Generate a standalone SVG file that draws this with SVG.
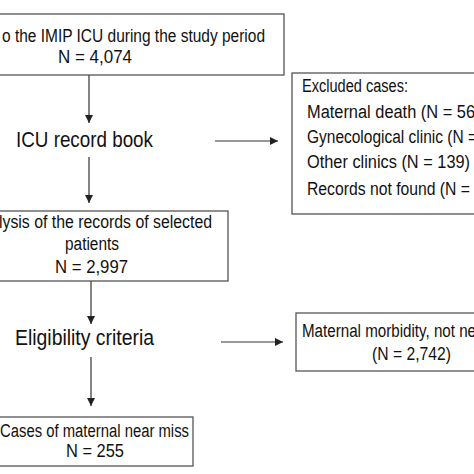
<svg xmlns="http://www.w3.org/2000/svg" width="474" height="474" viewBox="0 0 474 474">
<style>
.box{fill:#fff;stroke:#555;stroke-width:1.3}
.t{font-family:"Liberation Sans",Arial,sans-serif;font-size:18px;fill:#111}
.big{font-family:"Liberation Sans",Arial,sans-serif;font-size:22px;fill:#111}
.ln{stroke:#333;stroke-width:1.2;fill:none}
</style>
<defs>
<marker id="ah" viewBox="0 0 10 10" refX="10" refY="5" markerWidth="8" markerHeight="8" markerUnits="userSpaceOnUse" orient="auto">
<path d="M0,0 L10,5 L0,10 z" fill="#222"/>
</marker>
</defs>
<rect width="474" height="474" fill="#fff"/>
<g id="connectors">
<line class="ln" x1="89" y1="75" x2="89" y2="123" marker-end="url(#ah)"/>
<line class="ln" x1="89" y1="157" x2="89" y2="203" marker-end="url(#ah)"/>
<line class="ln" x1="215" y1="141" x2="278" y2="141" marker-end="url(#ah)"/>
<line class="ln" x1="91" y1="281" x2="91" y2="324" marker-end="url(#ah)"/>
<line class="ln" x1="221" y1="342" x2="283" y2="342" marker-end="url(#ah)"/>
<line class="ln" x1="91" y1="357" x2="91" y2="406" marker-end="url(#ah)"/>
</g>
<g id="admissions">
<rect class="box" x="-10" y="14" width="294" height="61"/>
<text class="t" x="2" y="42" textLength="263" lengthAdjust="spacingAndGlyphs">o the IMIP ICU during the study period</text>
<text class="t" x="58" y="63" textLength="74" lengthAdjust="spacingAndGlyphs">N = 4,074</text>
</g>
<g id="icu-record-book">
<text class="big" x="16" y="147" textLength="137" lengthAdjust="spacingAndGlyphs">ICU record book</text>
</g>
<g id="excluded">
<rect class="box" x="292" y="73" width="192" height="141"/>
<text class="t" x="302" y="92" textLength="106" lengthAdjust="spacingAndGlyphs">Excluded cases:</text>
<text class="t" x="307" y="118" textLength="168" lengthAdjust="spacingAndGlyphs">Maternal death (N = 56</text>
<text class="t" x="307" y="143" textLength="170" lengthAdjust="spacingAndGlyphs">Gynecological clinic (N =</text>
<text class="t" x="307" y="168" textLength="163" lengthAdjust="spacingAndGlyphs">Other clinics (N = 139)</text>
<text class="t" x="307" y="195" textLength="163" lengthAdjust="spacingAndGlyphs">Records not found (N =</text>
</g>
<g id="analysis">
<rect class="box" x="-10" y="211" width="238" height="70"/>
<text class="t" x="-1" y="228" textLength="213" lengthAdjust="spacingAndGlyphs">lysis of the records of selected</text>
<text class="t" x="65" y="250" textLength="54" lengthAdjust="spacingAndGlyphs">patients</text>
<text class="t" x="55" y="273" textLength="73" lengthAdjust="spacingAndGlyphs">N = 2,997</text>
</g>
<g id="eligibility">
<text class="big" x="15" y="345" textLength="139" lengthAdjust="spacingAndGlyphs">Eligibility criteria</text>
</g>
<g id="morbidity">
<rect class="box" x="296" y="313" width="188" height="58"/>
<text class="t" x="302" y="337" textLength="174" lengthAdjust="spacingAndGlyphs">Maternal morbidity, not ne</text>
<text class="t" x="372" y="360" textLength="79" lengthAdjust="spacingAndGlyphs">(N = 2,742)</text>
</g>
<g id="near-miss">
<rect class="box" x="-10" y="417" width="203" height="49"/>
<text class="t" x="0" y="437" textLength="189" lengthAdjust="spacingAndGlyphs">Cases of maternal near miss</text>
<text class="t" x="66" y="457" textLength="58" lengthAdjust="spacingAndGlyphs">N = 255</text>
</g>
</svg>
